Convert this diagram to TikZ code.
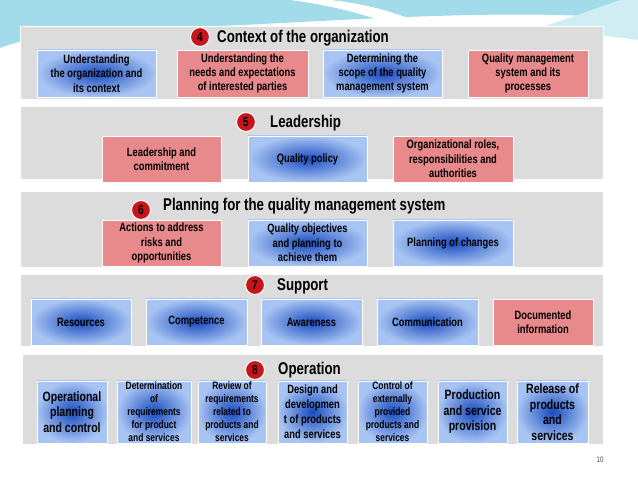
\documentclass[tikz,border=0pt]{standalone}
\usepackage{fontspec}
\setmainfont{Liberation Sans}[FakeStretch=0.78]
\usetikzlibrary{shadows}
\definecolor{panel}{HTML}{DCDCDC}
\definecolor{pinkb}{HTML}{E8898C}
\definecolor{bluel}{HTML}{A8C4F2}
\definecolor{blued}{HTML}{1A4CC0}
\definecolor{badge}{HTML}{C8151B}
\definecolor{teal}{HTML}{7ACBE0}
\tikzset{
 x=1pt,y=-1pt,
 pnl/.style={fill=panel,draw=white,line width=1pt},
 bx/.style={draw=white,line width=0.6pt,drop shadow={shadow xshift=1pt,shadow yshift=-1.5pt,opacity=0.5},
   align=center,font=\bfseries\fontsize{12}{14.3}\selectfont,inner sep=1pt},
 bb/.style={bx,inner color=blued,outer color=bluel},
 pb/.style={bx,fill=pinkb},
 badgec/.style={circle,fill=badge,draw=white,line width=1pt,inner sep=0pt,minimum size=19pt,font=\bfseries\fontsize{13}{13}\selectfont},
 ttl/.style={anchor=west,font=\bfseries\fontsize{17}{18}\selectfont,inner sep=0pt},
 sm/.style={font=\bfseries\fontsize{10.8}{13}\selectfont},
 lg/.style={font=\bfseries\fontsize{13.5}{15.5}\selectfont},
}
\begin{document}
\begin{tikzpicture}
\useasboundingbox (0,0) rectangle (638,478);
\fill[white] (0,0) rectangle (638,478);
% background waves
\fill[teal!70] (0,0) -- (638,0) -- (638,20) .. controls (500,5) and (300,25) .. (120,30) .. controls (60,32) and (20,40) .. (0,48) -- cycle;
\fill[teal!35] (620,0) -- (638,0) -- (638,40) .. controls (600,35) and (560,30) .. (540,28) -- cycle;
\fill[white] (290,0) .. controls (330,5) and (370,15) .. (400,28) -- (430,28) .. controls (400,12) and (360,3) .. (330,0) -- cycle;
% panels
\draw[pnl] (20,27) rectangle (603,100);
\draw[pnl] (20,107) rectangle (603,180);
\draw[pnl] (20,192) rectangle (603,268);
\draw[pnl] (20,275) rectangle (603,347);
\draw[pnl] (22,355) rectangle (603,445);
% titles
\node[badgec] (b4) at (200,37) {4};
\node[ttl] (t4) at (217,38) {Context of the organization};
\node[badgec] (b5) at (246,122) {5};
\node[ttl] (t5) at (270,123) {Leadership};
\node[badgec] (b6) at (141,210) {6};
\node[ttl] (t6) at (163,206) {Planning for the quality management system};
\node[badgec] (b7) at (255,285) {7};
\node[ttl] (t7) at (277,286) {Support};
\node[badgec] (b8) at (255,370) {8};
\node[ttl] (t8) at (278,370) {Operation};
% row 1
\node[bb,minimum width=119pt,minimum height=47pt] (c1) at (96.5,73.5) {Understanding\\the organization and\\its context};
\node[pb,minimum width=131pt,minimum height=47pt] (c2) at (242.5,73.5) {Understanding the\\needs and expectations\\of interested parties};
\node[bb,minimum width=119pt,minimum height=47pt] (c3) at (382.5,73.5) {Determining the\\scope of the quality\\management system};
\node[pb,minimum width=120pt,minimum height=47pt] (c4) at (528,73.5) {Quality management\\system and its\\processes};
% row 2
\node[pb,minimum width=119pt,minimum height=46pt] (l1) at (161.5,159) {Leadership and\\commitment};
\node[bb,minimum width=119pt,minimum height=46pt] (l2) at (307.5,159) {Quality policy};
\node[pb,minimum width=120pt,minimum height=46pt] (l3) at (453,159) {Organizational roles,\\responsibilities and\\authorities};
% row 3
\node[pb,minimum width=119pt,minimum height=46pt] (p1) at (161.5,243) {Actions to address\\risks and\\opportunities};
\node[bb,minimum width=119pt,minimum height=46pt] (p2) at (307.5,243) {Quality objectives\\and planning to\\achieve them};
\node[bb,minimum width=120pt,minimum height=46pt] (p3) at (453,243) {Planning of changes};
% row 4
\node[bb,minimum width=100pt,minimum height=46pt] (s1) at (81,322) {Resources};
\node[bb,minimum width=101pt,minimum height=46pt] (s2) at (196.5,322) {Competence};
\node[bb,minimum width=101pt,minimum height=46pt] (s3) at (311.5,322) {Awareness};
\node[bb,minimum width=101pt,minimum height=46pt] (s4) at (427.5,322) {Communication};
\node[pb,minimum width=100pt,minimum height=46pt] (s5) at (543,322) {Documented\\information};
% row 5
\node[bb,lg,minimum width=70pt,minimum height=62pt] (o1) at (72,412) {Operational\\planning\\and control};
\node[bb,sm,minimum width=74pt,minimum height=62pt] (o2) at (154,412) {Determination\\of\\requirements\\for product\\and services};
\node[bb,sm,minimum width=68pt,minimum height=62pt] (o3) at (232,412) {Review of\\requirements\\related to\\products and\\services};
\node[bb,font=\bfseries\fontsize{12}{15}\selectfont,minimum width=69pt,minimum height=62pt] (o4) at (312.5,412) {Design and\\developmen\\t of products\\and services};
\node[bb,sm,minimum width=69pt,minimum height=62pt] (o5) at (392.5,412) {Control of\\externally\\provided\\products and\\services};
\node[bb,lg,minimum width=69pt,minimum height=62pt] (o6) at (472.5,412) {Production\\and service\\provision};
\node[bb,lg,minimum width=71pt,minimum height=62pt] (o7) at (552.5,412) {Release of\\products\\and\\services};
\node[font=\fontsize{8}{8}\selectfont,text=black!70] (pg) at (600,460) {10};
\end{tikzpicture}
\end{document}
